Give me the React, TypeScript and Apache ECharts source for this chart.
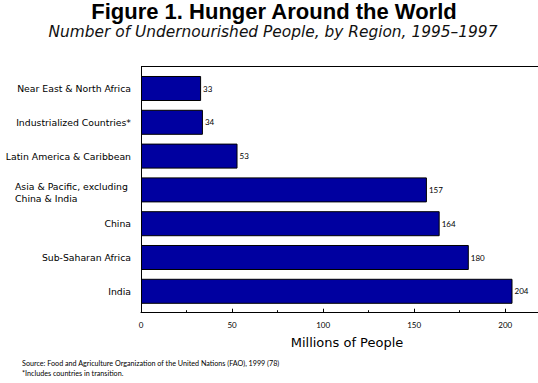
import React, { useEffect, useRef } from "react";
import * as echarts from "echarts";

const categories = [
  "Near East & North Africa",
  "Industrialized Countries*",
  "Latin America & Caribbean",
  "Asia & Pacific, excluding\nChina & India",
  "China",
  "Sub-Saharan Africa",
  "India",
];
const values = [33, 34, 53, 157, 164, 180, 204];
const majorTicks = [0, 50, 100, 150, 200];
const minorTicks = [25, 75, 125, 175];

const titleText = "Figure 1. Hunger Around the World";
const subtitleText = "Number of Undernourished People, by Region, 1995–1997";
const axisTitle = "Millions of People";
const sourceText = "Source: Food and Agriculture Organization of the United Nations (FAO), 1999 (78)";
const noteText = "*Includes countries in transition.";

const FONT = "Lato, 'Noto Sans', sans-serif";
const WIDE = "'DejaVu Sans', Verdana, sans-serif";

export default function App() {
  const ref = useRef<HTMLDivElement>(null);
  useEffect(() => {
    if (!ref.current) return;
    const chart = echarts.init(ref.current, undefined, { renderer: "svg" });
    chart.setOption({
      animation: false,
      backgroundColor: "#ffffff",
      grid: { left: 141, right: 0, top: 71.6, bottom: 74.8, containLabel: false },
      xAxis: [
        {
          type: "value",
          min: 0,
          max: 218,
          position: "bottom",
          offset: 4.5,
          axisLine: { show: true, lineStyle: { color: "#000", width: 1 } },
          axisTick: {
            show: true,
            inside: true,
            length: 4,
            customValues: majorTicks,
            lineStyle: { color: "#000" },
          },
          axisLabel: {
            customValues: majorTicks,
            color: "#000",
            fontFamily: FONT,
            fontSize: 8,
            margin: 8,
          },
          splitLine: { show: false },
        },
        {
          type: "value",
          min: 0,
          max: 218,
          position: "bottom",
          offset: 4.5,
          axisLine: { show: false },
          axisTick: {
            show: true,
            inside: true,
            length: 2.5,
            customValues: minorTicks,
            lineStyle: { color: "#000" },
          },
          axisLabel: { show: false, customValues: minorTicks },
          splitLine: { show: false },
        },
      ],
      yAxis: {
        type: "category",
        data: categories,
        inverse: true,
        axisLine: { show: false },
        axisTick: {
          show: true,
          inside: true,
          alignWithLabel: true,
          length: 5,
          lineStyle: { color: "#000" },
        },
        axisLabel: {
          color: "#000",
          fontFamily: WIDE,
          fontSize: 9.3,
          margin: 10,
          formatter: (v: string) =>
            v.includes("\n")
              ? v
                  .split("\n")
                  .map((l) => `{l|${l}}`)
                  .join("\n")
              : v,
          rich: {
            l: {
              width: 116,
              align: "left",
              fontFamily: WIDE,
              fontSize: 9.3,
              color: "#000",
              lineHeight: 12.5,
              padding: [5, 0, 0, 0],
            },
          },
        },
      },
      series: [
        {
          type: "bar",
          data: values,
          xAxisIndex: 0,
          barCategoryGap: "26%",
          itemStyle: { color: "#0000a0", borderColor: "#000", borderWidth: 1 },
          label: {
            show: true,
            position: "right",
            distance: 2,
            color: "#000",
            fontFamily: FONT,
            fontSize: 8,
          },
        },
      ],
      graphic: [
        {
          type: "line",
          shape: { x1: 141, y1: 66.5, x2: 538, y2: 66.5 },
          style: { stroke: "#000", lineWidth: 1 },
          silent: true,
        },
        {
          type: "line",
          shape: { x1: 141.5, y1: 66, x2: 141.5, y2: 313 },
          style: { stroke: "#000", lineWidth: 1 },
          silent: true,
        },
        {
          type: "text",
          x: 274,
          y: 11.5,
          style: {
            text: titleText,
            fill: "#000",
            font: "bold 22px 'Liberation Sans', Arial, sans-serif",
            textAlign: "center",
            textVerticalAlign: "middle",
          },
        },
        {
          type: "text",
          x: 273,
          y: 32,
          style: {
            text: subtitleText,
            fill: "#111",
            font: "italic 15.4px " + WIDE,
            textAlign: "center",
            textVerticalAlign: "middle",
          },
        },
        {
          type: "text",
          x: 347,
          y: 342,
          style: {
            text: axisTitle,
            fill: "#000",
            font: "13px " + WIDE,
            textAlign: "center",
            textVerticalAlign: "middle",
          },
        },
        {
          type: "text",
          x: 22,
          y: 363.5,
          style: {
            text: sourceText,
            fill: "#000",
            font: "7.2px " + FONT,
            textAlign: "left",
            textVerticalAlign: "middle",
          },
        },
        {
          type: "text",
          x: 22,
          y: 373.5,
          style: {
            text: noteText,
            fill: "#000",
            font: "7.2px " + FONT,
            textAlign: "left",
            textVerticalAlign: "middle",
          },
        },
      ],
    });
    return () => chart.dispose();
  }, []);
  return (
    <div
      ref={ref}
      style={{ position: "fixed", left: 0, top: 0, width: 538, height: 383 }}
    />
  );
}
